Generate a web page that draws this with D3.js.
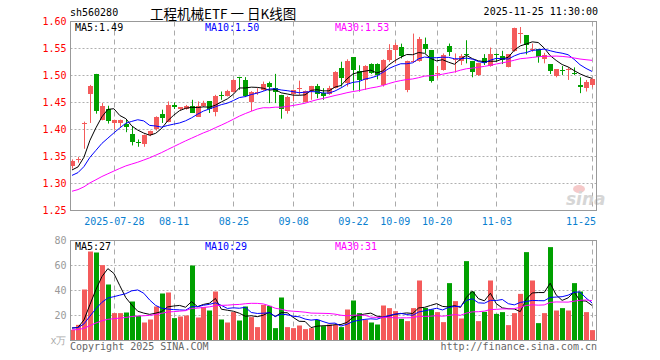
<!DOCTYPE html>
<html><head><meta charset="utf-8">
<script src="https://cdn.jsdelivr.net/npm/d3@7"></script>
<style>html,body{margin:0;padding:0;background:#fff;} svg{display:block;}</style>
</head><body><svg id="c" width="660" height="360"></svg>
<script>
// ---------- data ----------
const dates = ["2025-07-17","2025-07-18","2025-07-21","2025-07-22","2025-07-23","2025-07-24","2025-07-25","2025-07-28","2025-07-29","2025-07-30",
"2025-07-31","2025-08-01","2025-08-04","2025-08-05","2025-08-06","2025-08-07","2025-08-08","2025-08-11","2025-08-12","2025-08-13",
"2025-08-14","2025-08-15","2025-08-18","2025-08-19","2025-08-20","2025-08-21","2025-08-22","2025-08-25","2025-08-26","2025-08-27",
"2025-08-28","2025-08-29","2025-09-01","2025-09-02","2025-09-03","2025-09-04","2025-09-05","2025-09-08","2025-09-09","2025-09-10",
"2025-09-11","2025-09-12","2025-09-15","2025-09-16","2025-09-17","2025-09-18","2025-09-19","2025-09-22","2025-09-23","2025-09-24",
"2025-09-25","2025-09-26","2025-09-29","2025-09-30","2025-10-09","2025-10-10","2025-10-13","2025-10-14","2025-10-15","2025-10-16",
"2025-10-17","2025-10-20","2025-10-21","2025-10-22","2025-10-23","2025-10-24","2025-10-27","2025-10-28","2025-10-29","2025-10-30",
"2025-10-31","2025-11-03","2025-11-04","2025-11-05","2025-11-06","2025-11-07","2025-11-10","2025-11-11","2025-11-12","2025-11-13",
"2025-11-14","2025-11-17","2025-11-18","2025-11-19","2025-11-20","2025-11-21","2025-11-24","2025-11-25"];

const open = [1.3325,1.344,1.410,1.4673,1.503,1.4183,1.4379,1.4121,1.4121,1.411,
1.392,1.377,1.3741,1.3907,1.40,1.4293,1.4152,1.4458,1.4367,1.4379,
1.444,1.4244,1.444,1.452,1.4336,1.463,1.4624,1.4703,1.497,1.492,
1.452,1.469,1.4734,1.4857,1.4765,1.4642,1.4336,1.466,1.4758,1.452,
1.4722,1.4808,1.4673,1.466,1.4765,1.513,1.4857,1.5335,1.509,1.4918,
1.521,1.521,1.4826,1.5285,1.547,1.552,1.4722,1.5262,1.527,1.558,
1.547,1.5035,1.5102,1.5543,1.5295,1.527,1.540,1.527,1.501,1.532,
1.5175,1.539,1.5359,1.5163,1.5457,1.5785,1.5745,1.548,1.5482,1.5298,
1.5212,1.4979,1.5105,1.511,1.5045,1.4826,1.4765,1.4826];

const high = [1.3447,1.349,1.4146,1.4826,1.503,1.449,1.444,1.4183,1.4183,1.4195,
1.406,1.3815,1.3907,1.398,1.4244,1.4367,1.452,1.450,1.441,1.4455,
1.455,1.452,1.4532,1.452,1.4642,1.4703,1.4735,1.493,1.4975,1.497,
1.471,1.4765,1.4887,1.4887,1.503,1.4642,1.4624,1.4734,1.4905,1.4722,
1.4808,1.4844,1.4765,1.4808,1.508,1.5255,1.53,1.5335,1.519,1.519,
1.5225,1.5225,1.53,1.558,1.5605,1.559,1.5275,1.5776,1.5714,1.5702,
1.547,1.5175,1.5408,1.5592,1.5408,1.5396,1.5653,1.527,1.5237,1.5396,
1.5518,1.5408,1.5457,1.5396,1.5886,1.5898,1.5745,1.5592,1.5482,1.542,
1.5212,1.5114,1.5175,1.515,1.515,1.4967,1.4918,1.495];

const low = [1.3276,1.3386,1.3643,1.4121,1.4293,1.417,1.411,1.40,1.4048,1.395,
1.3705,1.368,1.368,1.3876,1.398,1.4121,1.4134,1.4379,1.4355,1.4367,
1.4305,1.4232,1.4415,1.4305,1.4244,1.455,1.4612,1.4685,1.4734,1.460,
1.434,1.4642,1.4716,1.4489,1.4489,1.42,1.4293,1.452,1.4642,1.450,
1.455,1.458,1.455,1.4642,1.476,1.4795,1.4795,1.4722,1.4703,1.4734,
1.503,1.493,1.4795,1.5255,1.5225,1.5316,1.469,1.5237,1.5255,1.5408,
1.4869,1.4949,1.509,1.5359,1.5053,1.5194,1.5225,1.4967,1.4991,1.5194,
1.5163,1.5255,1.5212,1.515,1.5439,1.5592,1.539,1.5439,1.5237,1.5225,
1.5028,1.4967,1.501,1.4918,1.501,1.4673,1.4703,1.478];

const close = [1.3423,1.346,1.412,1.4814,1.4336,1.444,1.4152,1.4183,1.4183,1.4048,
1.3766,1.3766,1.3907,1.398,1.4226,1.4226,1.4458,1.4427,1.441,1.444,
1.4318,1.444,1.4489,1.4379,1.4624,1.4624,1.4722,1.4918,1.496,1.462,
1.470,1.470,1.4844,1.4777,1.4685,1.439,1.4594,1.4734,1.4765,1.4722,
1.4808,1.466,1.4624,1.4765,1.507,1.495,1.527,1.509,1.4918,1.5175,
1.504,1.501,1.5285,1.547,1.556,1.536,1.5267,1.5267,1.5672,1.5488,
1.4887,1.504,1.5377,1.5439,1.53,1.5359,1.539,1.507,1.5237,1.523,
1.5396,1.5384,1.5285,1.5396,1.5886,1.579,1.5561,1.5482,1.5335,1.5377,
1.509,1.5114,1.510,1.5114,1.504,1.4783,1.4875,1.493];

// volume, 万手
const volume = [8.5,12.5,40.8,71.2,70.4,60.3,44.8,21.9,21.9,22.4,
31.2,19.7,14.4,16.8,27.2,37.6,38.4,17.9,19.2,20.0,
60.0,18.4,26.7,24.0,39.2,16.8,14.4,22.7,16.0,27.2,
18.7,10.7,28.5,27.7,9.9,34.4,10.7,9.9,12.0,9.1,
9.9,16.5,11.5,12.8,12.5,10.7,24.8,32.0,21.9,16.5,
14.4,12.8,28.0,25.9,23.5,17.3,15.5,25.9,48.0,26.1,
24.8,22.7,14.7,45.9,31.5,17.6,63.5,39.2,15.5,22.9,
48.0,21.3,22.7,12.3,21.9,37.3,70.7,48.0,13.9,21.9,
74.7,24.0,25.9,24.0,45.9,39.2,22.7,8.3];

// sessions before the window (estimated from where the MA lines start)
const prevClose = [1.255,1.258,1.262,1.26,1.265,1.263,1.268,1.27,1.266,1.272,
1.275,1.27,1.274,1.278,1.276,1.28,1.282,1.279,1.284,1.283,
1.295,1.30,1.31,1.305,1.315,1.318,1.322,1.325,1.318];
const prevVolume = [7.2,8.1,7.5,8.4,7.0,7.9,8.3,7.6,7.1,8.0,
7.8,8.2,7.4,7.7,8.5,7.3,7.9,8.1,7.6,8.0,
9.5,10.8,9.6,10.4,9.7,10.2,11.0,9.8,10.5];

const priceTicks = [1.60,1.55,1.50,1.45,1.40,1.35,1.30,1.25];
const volTicks = [20,40,60,80];
const tickDates = ["2025-07-28","2025-08-11","2025-08-25","2025-09-08","2025-09-22","2025-10-09","2025-10-20","2025-11-03","2025-11-25"];
const tickLabels = ["2025-07-28","08-11","08-25","09-08","09-22","10-09","10-20","11-03","11-25"];
const maPeriods = [5,10,30];
const maColors = ["#000000","#0000ff","#ff00ff"];
const priceLegend = ["MA5:1.49","MA10:1.50","MA30:1.53"];
const volLegend = ["MA5:27","MA10:29","MA30:31"];

// ---------- layout ----------
const L=70.5, R=596.5, T=21.5, B=210.5, VT=240.5, VB=340.5;
const MONO = "'DejaVu Sans Mono', monospace";
const UP="#f45b5b", DOWN="#00a000";
const svg = d3.select("#c");

const x = d3.scalePoint().domain(dates).range([72,592]);
const y = d3.scaleLinear().domain([1.25,1.60]).range([B,T]);
const vy = d3.scaleLinear().domain([0,80]).range([VB,VT]);
const px = d => Math.round(x(d));

function movingAvg(series, prev, n){
  const all = prev.concat(series), off = prev.length;
  return series.map((_,i)=>d3.mean(all.slice(off+i-n+1, off+i+1)));
}

// grid
const grid = svg.append("g");
grid.selectAll(".hp").data(priceTicks.slice(1,-1)).join("line")
  .attr("x1",L).attr("x2",R).attr("y1",d=>Math.round(y(d)-0.5)+0.5).attr("y2",d=>Math.round(y(d)-0.5)+0.5)
  .attr("stroke","#b0b0b0").attr("stroke-dasharray","2,2");
grid.selectAll(".hv").data([20,40,60]).join("line")
  .attr("x1",L).attr("x2",R).attr("y1",d=>vy(d)).attr("y2",d=>vy(d))
  .attr("stroke","#b0b0b0").attr("stroke-dasharray","2,2");
[[T,B],[VT,VB]].forEach(([a,b])=>{
  grid.append("g").selectAll("line").data(tickDates).join("line")
    .attr("x1",d=>px(d)+0.5).attr("x2",d=>px(d)+0.5).attr("y1",a).attr("y2",b)
    .attr("stroke","#aaaaaa").attr("stroke-dasharray","5,4");
});

// watermark
const wm = svg.append("g");
wm.append("ellipse").attr("cx",579).attr("cy",189).attr("rx",6).attr("ry",4).attr("fill","#f5c9c9");
wm.append("text").attr("x",566).attr("y",205).attr("font-family","'DejaVu Sans', sans-serif")
  .attr("font-style","italic").attr("font-weight","bold").attr("font-size",17).attr("fill","#d6d6d6").text("sina");

// candles
const idx = d3.range(dates.length);
const cg = svg.append("g");
cg.selectAll("line").data(idx).join("line")
  .attr("x1",i=>px(dates[i])+0.5).attr("x2",i=>px(dates[i])+0.5)
  .attr("y1",i=>y(high[i])).attr("y2",i=>y(low[i]))
  .attr("stroke",i=>close[i]>=open[i]?UP:DOWN);
cg.selectAll("rect").data(idx).join("rect")
  .attr("x",i=>px(dates[i])-2).attr("width",5)
  .attr("y",i=>Math.round(y(Math.max(open[i],close[i]))))
  .attr("height",i=>Math.max(1,Math.round(Math.abs(y(open[i])-y(close[i])))))
  .attr("fill",i=>close[i]>=open[i]?UP:DOWN);

// price MAs
maPeriods.forEach((n,k)=>{
  const m = movingAvg(close, prevClose, n);
  svg.append("path").datum(idx).attr("fill","none").attr("stroke",maColors[k]).attr("stroke-width",1)
    .attr("d",d3.line().x(i=>x(dates[i])).y(i=>y(m[i])));
});

// volume bars
svg.append("g").selectAll("rect").data(idx).join("rect")
  .attr("x",i=>px(dates[i])-2).attr("width",5)
  .attr("y",i=>vy(volume[i])).attr("height",i=>VB-vy(volume[i]))
  .attr("fill",i=>close[i]>=open[i]?UP:DOWN);
maPeriods.forEach((n,k)=>{
  const m = movingAvg(volume, prevVolume, n);
  svg.append("path").datum(idx).attr("fill","none").attr("stroke",maColors[k]).attr("stroke-width",1)
    .attr("d",d3.line().x(i=>x(dates[i])).y(i=>vy(m[i])));
});

// borders
svg.append("rect").attr("x",L).attr("y",T).attr("width",R-L).attr("height",B-T).attr("fill","none").attr("stroke","#999");
svg.append("rect").attr("x",L).attr("y",VT).attr("width",R-L).attr("height",VB-VT).attr("fill","none").attr("stroke","#999");

// axes
const ya = svg.append("g").attr("transform",`translate(${L},0)`)
  .call(d3.axisLeft(y).tickValues(priceTicks).tickFormat(d3.format(".2f")).tickSize(0).tickPadding(4));
ya.select(".domain").remove();
ya.selectAll("text").attr("fill","#ff0000").attr("font-family",MONO).attr("font-size",10);

const va = svg.append("g").attr("transform",`translate(${L},0)`)
  .call(d3.axisLeft(vy).tickValues(volTicks).tickSize(0).tickPadding(4));
va.select(".domain").remove();
va.selectAll("text").attr("fill","#999").attr("font-family",MONO).attr("font-size",10);
svg.append("text").attr("x",L-4).attr("y",VB+3).attr("text-anchor","end").attr("fill","#aaa")
  .attr("font-family",MONO).attr("font-size",10).text("x万");

const xa = svg.append("g").attr("transform",`translate(0,${B})`)
  .call(d3.axisBottom(x).tickValues(tickDates).tickFormat((d,i)=>tickLabels[i]).tickSize(0).tickPadding(7));
xa.select(".domain").remove();
xa.selectAll("text").attr("fill","#0a7fd0").attr("font-family",MONO).attr("font-size",10);
xa.selectAll(".tick").filter(d=>d===tickDates[tickDates.length-1]).select("text")
  .attr("text-anchor","end").attr("x",R-px(tickDates[tickDates.length-1])-1);

// legends
const legX = [75,205,335];
priceLegend.forEach((t,k)=>svg.append("text").attr("x",legX[k]).attr("y",31).attr("fill",maColors[k])
  .attr("font-family",MONO).attr("font-size",10).text(t));
volLegend.forEach((t,k)=>svg.append("text").attr("x",legX[k]).attr("y",250).attr("fill",maColors[k])
  .attr("font-family",MONO).attr("font-size",10).text(t));

// header & footer
svg.append("text").attr("x",70).attr("y",16).attr("font-family",MONO).attr("font-size",10).attr("fill","#000").text("sh560280");
svg.append("text").attr("x",150).attr("y",18.5).attr("font-family","'Noto Sans CJK SC', sans-serif").attr("font-size",13.5)
  .attr("fill","#000").style("white-space","pre").text("工程机械ETF 一 日K线图");
svg.append("text").attr("x",598).attr("y",15).attr("text-anchor","end").attr("font-family",MONO).attr("font-size",10).attr("fill","#000").text("2025-11-25 11:30:00");
svg.append("text").attr("x",70).attr("y",350).attr("font-family",MONO).attr("font-size",10).attr("fill","#666").text("Copyright 2025 SINA.COM");
svg.append("text").attr("x",597).attr("y",350).attr("text-anchor","end").attr("font-family",MONO).attr("font-size",10).attr("fill","#666").text("http://finance.sina.com.cn");
</script></body></html>
